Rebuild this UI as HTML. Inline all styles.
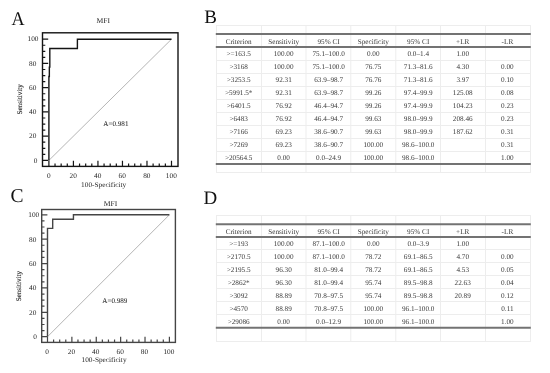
<!DOCTYPE html>
<html><head><meta charset="utf-8"><title>ROC curves</title>
<style>html,body{margin:0;padding:0;background:#fff;width:550px;height:373px;overflow:hidden}svg{display:block;filter:blur(0.3px)}</style>
</head><body>
<svg width="550" height="373" viewBox="0 0 550 373" font-family='"Liberation Serif", "Times New Roman", serif' text-rendering="geometricPrecision">
<rect width="550" height="373" fill="#fff"/>
<g font-size="7.1" fill="#262626"><line x1="48.9" y1="160.4" x2="171.5" y2="39.2" stroke="#adadad" stroke-width="0.9"/>
<path d="M42.5 160.4h5.7M48.9 166.4v-5.7M42.5 154.34h2.8M55.03 166.4v-2.8M42.5 148.28h2.8M61.16 166.4v-2.8M42.5 142.22h2.8M67.29 166.4v-2.8M42.5 136.16h5.7M73.42 166.4v-5.7M42.5 130.1h2.8M79.55 166.4v-2.8M42.5 124.04h2.8M85.68 166.4v-2.8M42.5 117.98h2.8M91.81 166.4v-2.8M42.5 111.92h5.7M97.94 166.4v-5.7M42.5 105.86h2.8M104.07 166.4v-2.8M42.5 99.8h2.8M110.2 166.4v-2.8M42.5 93.74h2.8M116.33 166.4v-2.8M42.5 87.68h5.7M122.46 166.4v-5.7M42.5 81.62h2.8M128.59 166.4v-2.8M42.5 75.56h2.8M134.72 166.4v-2.8M42.5 69.5h2.8M140.85 166.4v-2.8M42.5 63.44h5.7M146.98 166.4v-5.7M42.5 57.38h2.8M153.11 166.4v-2.8M42.5 51.32h2.8M159.24 166.4v-2.8M42.5 45.26h2.8M165.37 166.4v-2.8M42.5 39.2h5.7M171.5 166.4v-5.7" stroke="#141414" stroke-width="1.2" fill="none"/>
<path d="M48.9 160.4 L48.9 76.49 L49.35 76.49 L49.35 67.17 L49.81 67.17 L49.81 48.52 L77.39 48.52 L77.4 39.2 L171.5 39.2" stroke="#141414" stroke-width="1.4" fill="none" stroke-linejoin="miter"/>
<rect x="42.5" y="32.8" width="135.5" height="133.6" stroke="#141414" stroke-width="1.4" fill="none"/>
<text transform="translate(37.4 162.7) scale(1.03 1)" text-anchor="end">0</text>
<text transform="translate(48.7 177.7) scale(1.03 1)" text-anchor="middle">0</text>
<text transform="translate(36.3 138.4) scale(1.03 1)" text-anchor="end">20</text>
<text transform="translate(73.22 177.7) scale(1.03 1)" text-anchor="middle">20</text>
<text transform="translate(36.3 114.1) scale(1.03 1)" text-anchor="end">40</text>
<text transform="translate(97.74 177.7) scale(1.03 1)" text-anchor="middle">40</text>
<text transform="translate(36.3 89.8) scale(1.03 1)" text-anchor="end">60</text>
<text transform="translate(122.26 177.7) scale(1.03 1)" text-anchor="middle">60</text>
<text transform="translate(36.3 65.5) scale(1.03 1)" text-anchor="end">80</text>
<text transform="translate(146.78 177.7) scale(1.03 1)" text-anchor="middle">80</text>
<text transform="translate(38.5 41.2) scale(1.03 1)" text-anchor="end">100</text>
<text transform="translate(171.3 177.7) scale(1.03 1)" text-anchor="middle">100</text>
<text transform="translate(103.2 22.6) scale(1.03 1)" text-anchor="middle" font-size="7.4">MFI</text>
<text transform="translate(103.6 187.4) scale(1.03 1)" text-anchor="middle">100-Specificity</text>
<text transform="translate(21.8 99.3) rotate(-90)" text-anchor="middle" stroke="#262626" stroke-width="0.12">Sensitivity</text>
<text transform="translate(115.9 125.9)" text-anchor="middle" stroke="#262626" stroke-width="0.05">A=0.981</text>
<text transform="translate(11.6 24.8) scale(0.93 1)" font-size="19.5" fill="#111" stroke="none">A</text></g>
<g font-size="7.1" fill="#262626"><line x1="47.5" y1="336.7" x2="169.4" y2="214.8" stroke="#adadad" stroke-width="0.9"/>
<path d="M41.7 336.7h5.7M47.5 342.4v-5.7M41.7 330.6h2.8M53.59 342.4v-2.8M41.7 324.51h2.8M59.69 342.4v-2.8M41.7 318.41h2.8M65.78 342.4v-2.8M41.7 312.32h5.7M71.88 342.4v-5.7M41.7 306.22h2.8M77.97 342.4v-2.8M41.7 300.13h2.8M84.07 342.4v-2.8M41.7 294.03h2.8M90.17 342.4v-2.8M41.7 287.94h5.7M96.26 342.4v-5.7M41.7 281.84h2.8M102.36 342.4v-2.8M41.7 275.75h2.8M108.45 342.4v-2.8M41.7 269.65h2.8M114.55 342.4v-2.8M41.7 263.56h5.7M120.64 342.4v-5.7M41.7 257.46h2.8M126.73 342.4v-2.8M41.7 251.37h2.8M132.83 342.4v-2.8M41.7 245.27h2.8M138.93 342.4v-2.8M41.7 239.18h5.7M145.02 342.4v-5.7M41.7 233.08h2.8M151.12 342.4v-2.8M41.7 226.99h2.8M157.21 342.4v-2.8M41.7 220.89h2.8M163.31 342.4v-2.8M41.7 214.8h5.7M169.4 342.4v-5.7" stroke="#454545" stroke-width="1.2" fill="none"/>
<path d="M47.5 336.7 L47.5 228.34 L52.69 228.34 L52.69 219.31 L73.44 219.31 L73.44 214.8 L169.4 214.8" stroke="#454545" stroke-width="1.4" fill="none" stroke-linejoin="miter"/>
<rect x="41.7" y="209.5" width="133.7" height="132.9" stroke="#454545" stroke-width="1.4" fill="none"/>
<text transform="translate(37 338.8) scale(1.03 1)" text-anchor="end">0</text>
<text transform="translate(47 353.8) scale(1.03 1)" text-anchor="middle">0</text>
<text transform="translate(36.4 314.5) scale(1.03 1)" text-anchor="end">20</text>
<text transform="translate(71.38 353.8) scale(1.03 1)" text-anchor="middle">20</text>
<text transform="translate(36.4 290.2) scale(1.03 1)" text-anchor="end">40</text>
<text transform="translate(95.76 353.8) scale(1.03 1)" text-anchor="middle">40</text>
<text transform="translate(36.4 265.9) scale(1.03 1)" text-anchor="end">60</text>
<text transform="translate(120.14 353.8) scale(1.03 1)" text-anchor="middle">60</text>
<text transform="translate(36.4 241.6) scale(1.03 1)" text-anchor="end">80</text>
<text transform="translate(144.52 353.8) scale(1.03 1)" text-anchor="middle">80</text>
<text transform="translate(39.2 217.3) scale(1.03 1)" text-anchor="end">100</text>
<text transform="translate(168.9 353.8) scale(1.03 1)" text-anchor="middle">100</text>
<text transform="translate(110.5 205.5) scale(1.03 1)" text-anchor="middle" font-size="7.4">MFI</text>
<text transform="translate(104 362.2) scale(1.03 1)" text-anchor="middle">100-Specificity</text>
<text transform="translate(21.2 286.2) rotate(-90)" text-anchor="middle" stroke="#262626" stroke-width="0.12">Sensitivity</text>
<text transform="translate(114.8 302.6)" text-anchor="middle" stroke="#262626" stroke-width="0.05">A=0.989</text>
<text transform="translate(10.5 201.6) scale(1 1)" font-size="19.5" fill="#111" stroke="none">C</text></g>
<g font-size="7.2" fill="#3a3a3a" text-anchor="middle"><path d="M216.5 25.5V172.5M261.5 25.5V172.5M306 25.5V172.5M350.8 25.5V172.5M395.8 25.5V172.5M440.5 25.5V172.5M485.5 25.5V172.5M530.5 25.5V172.5M216 25.5H531M216 172.5H531M216 60.5H531M216 73.5H531M216 86.5H531M216 99.5H531M216 112.5H531M216 125.5H531M216 138.5H531M216 151.5H531" stroke="#ededed" stroke-width="1" fill="none"/>
<line x1="215.8" y1="34" x2="530.8" y2="34" stroke="#737373" stroke-width="2"/>
<line x1="215.8" y1="47" x2="530.8" y2="47" stroke="#737373" stroke-width="2"/>
<line x1="215.8" y1="164" x2="530.8" y2="164" stroke="#737373" stroke-width="2"/>
<text transform="translate(238.65 43.8) scale(1.0 1)">Criterion</text>
<text transform="translate(283.65 43.8) scale(1.0 1)">Sensitivity</text>
<text transform="translate(328.6 43.8) scale(1.0 1)">95% CI</text>
<text transform="translate(373.25 43.8) scale(1.0 1)">Specificity</text>
<text transform="translate(418.2 43.8) scale(1.0 1)">95% CI</text>
<text transform="translate(462.7 43.8) scale(1.0 1)">+LR</text>
<text transform="translate(507.4 43.8) scale(1.0 1)">-LR</text>
<text transform="translate(238.65 56.3) scale(1.0 1)">&gt;=163.5</text>
<text transform="translate(283.65 56.3) scale(1.0 1)">100.00</text>
<text transform="translate(328.6 56.3) scale(1.0 1)">75.1–100.0</text>
<text transform="translate(373.25 56.3) scale(1.0 1)">0.00</text>
<text transform="translate(418.2 56.3) scale(1.0 1)">0.0–1.4</text>
<text transform="translate(462.7 56.3) scale(1.0 1)">1.00</text>
<text transform="translate(238.65 69.3) scale(1.0 1)">&gt;3168</text>
<text transform="translate(283.65 69.3) scale(1.0 1)">100.00</text>
<text transform="translate(328.6 69.3) scale(1.0 1)">75.1–100.0</text>
<text transform="translate(373.25 69.3) scale(1.0 1)">76.75</text>
<text transform="translate(418.2 69.3) scale(1.0 1)">71.3–81.6</text>
<text transform="translate(462.7 69.3) scale(1.0 1)">4.30</text>
<text transform="translate(507.4 69.3) scale(1.0 1)">0.00</text>
<text transform="translate(238.65 82.3) scale(1.0 1)">&gt;3253.5</text>
<text transform="translate(283.65 82.3) scale(1.0 1)">92.31</text>
<text transform="translate(328.6 82.3) scale(1.0 1)">63.9–98.7</text>
<text transform="translate(373.25 82.3) scale(1.0 1)">76.76</text>
<text transform="translate(418.2 82.3) scale(1.0 1)">71.3–81.6</text>
<text transform="translate(462.7 82.3) scale(1.0 1)">3.97</text>
<text transform="translate(507.4 82.3) scale(1.0 1)">0.10</text>
<text transform="translate(238.65 95.3) scale(1.0 1)">&gt;5991.5*</text>
<text transform="translate(283.65 95.3) scale(1.0 1)">92.31</text>
<text transform="translate(328.6 95.3) scale(1.0 1)">63.9–98.7</text>
<text transform="translate(373.25 95.3) scale(1.0 1)">99.26</text>
<text transform="translate(418.2 95.3) scale(1.0 1)">97.4–99.9</text>
<text transform="translate(462.7 95.3) scale(1.0 1)">125.08</text>
<text transform="translate(507.4 95.3) scale(1.0 1)">0.08</text>
<text transform="translate(238.65 108.3) scale(1.0 1)">&gt;6401.5</text>
<text transform="translate(283.65 108.3) scale(1.0 1)">76.92</text>
<text transform="translate(328.6 108.3) scale(1.0 1)">46.4–94.7</text>
<text transform="translate(373.25 108.3) scale(1.0 1)">99.26</text>
<text transform="translate(418.2 108.3) scale(1.0 1)">97.4–99.9</text>
<text transform="translate(462.7 108.3) scale(1.0 1)">104.23</text>
<text transform="translate(507.4 108.3) scale(1.0 1)">0.23</text>
<text transform="translate(238.65 121.3) scale(1.0 1)">&gt;6483</text>
<text transform="translate(283.65 121.3) scale(1.0 1)">76.92</text>
<text transform="translate(328.6 121.3) scale(1.0 1)">46.4–94.7</text>
<text transform="translate(373.25 121.3) scale(1.0 1)">99.63</text>
<text transform="translate(418.2 121.3) scale(1.0 1)">98.0–99.9</text>
<text transform="translate(462.7 121.3) scale(1.0 1)">208.46</text>
<text transform="translate(507.4 121.3) scale(1.0 1)">0.23</text>
<text transform="translate(238.65 134.3) scale(1.0 1)">&gt;7166</text>
<text transform="translate(283.65 134.3) scale(1.0 1)">69.23</text>
<text transform="translate(328.6 134.3) scale(1.0 1)">38.6–90.7</text>
<text transform="translate(373.25 134.3) scale(1.0 1)">99.63</text>
<text transform="translate(418.2 134.3) scale(1.0 1)">98.0–99.9</text>
<text transform="translate(462.7 134.3) scale(1.0 1)">187.62</text>
<text transform="translate(507.4 134.3) scale(1.0 1)">0.31</text>
<text transform="translate(238.65 147.3) scale(1.0 1)">&gt;7269</text>
<text transform="translate(283.65 147.3) scale(1.0 1)">69.23</text>
<text transform="translate(328.6 147.3) scale(1.0 1)">38.6–90.7</text>
<text transform="translate(373.25 147.3) scale(1.0 1)">100.00</text>
<text transform="translate(418.2 147.3) scale(1.0 1)">98.6–100.0</text>
<text transform="translate(507.4 147.3) scale(1.0 1)">0.31</text>
<text transform="translate(238.65 160.3) scale(1.0 1)">&gt;20564.5</text>
<text transform="translate(283.65 160.3) scale(1.0 1)">0.00</text>
<text transform="translate(328.6 160.3) scale(1.0 1)">0.0–24.9</text>
<text transform="translate(373.25 160.3) scale(1.0 1)">100.00</text>
<text transform="translate(418.2 160.3) scale(1.0 1)">98.6–100.0</text>
<text transform="translate(507.4 160.3) scale(1.0 1)">1.00</text>
<text x="204.3" y="23.4" font-size="19" fill="#111" text-anchor="start">B</text></g>
<g font-size="7.2" fill="#3a3a3a" text-anchor="middle"><path d="M216.5 215.5V341.5M261.5 215.5V341.5M306 215.5V341.5M350.8 215.5V341.5M395.8 215.5V341.5M440.5 215.5V341.5M485.5 215.5V341.5M530.5 215.5V341.5M216 215.5H531M216 341.5H531M216 249.5H531M216 262.5H531M216 275.5H531M216 288.5H531M216 301.5H531M216 314.5H531" stroke="#ededed" stroke-width="1" fill="none"/>
<line x1="215.8" y1="224.2" x2="530.8" y2="224.2" stroke="#737373" stroke-width="2"/>
<line x1="215.8" y1="237" x2="530.8" y2="237" stroke="#737373" stroke-width="2"/>
<line x1="215.8" y1="327.79" x2="530.8" y2="327.79" stroke="#737373" stroke-width="2"/>
<text transform="translate(238.65 233.9) scale(1.0 1)">Criterion</text>
<text transform="translate(283.65 233.9) scale(1.0 1)">Sensitivity</text>
<text transform="translate(328.6 233.9) scale(1.0 1)">95% CI</text>
<text transform="translate(373.25 233.9) scale(1.0 1)">Specificity</text>
<text transform="translate(418.2 233.9) scale(1.0 1)">95% CI</text>
<text transform="translate(462.7 233.9) scale(1.0 1)">+LR</text>
<text transform="translate(507.4 233.9) scale(1.0 1)">-LR</text>
<text transform="translate(238.65 246.29) scale(1.0 1)">&gt;=193</text>
<text transform="translate(283.65 246.29) scale(1.0 1)">100.00</text>
<text transform="translate(328.6 246.29) scale(1.0 1)">87.1–100.0</text>
<text transform="translate(373.25 246.29) scale(1.0 1)">0.00</text>
<text transform="translate(418.2 246.29) scale(1.0 1)">0.0–3.9</text>
<text transform="translate(462.7 246.29) scale(1.0 1)">1.00</text>
<text transform="translate(238.65 259.25) scale(1.0 1)">&gt;2170.5</text>
<text transform="translate(283.65 259.25) scale(1.0 1)">100.00</text>
<text transform="translate(328.6 259.25) scale(1.0 1)">87.1–100.0</text>
<text transform="translate(373.25 259.25) scale(1.0 1)">78.72</text>
<text transform="translate(418.2 259.25) scale(1.0 1)">69.1–86.5</text>
<text transform="translate(462.7 259.25) scale(1.0 1)">4.70</text>
<text transform="translate(507.4 259.25) scale(1.0 1)">0.00</text>
<text transform="translate(238.65 272.23) scale(1.0 1)">&gt;2195.5</text>
<text transform="translate(283.65 272.23) scale(1.0 1)">96.30</text>
<text transform="translate(328.6 272.23) scale(1.0 1)">81.0–99.4</text>
<text transform="translate(373.25 272.23) scale(1.0 1)">78.72</text>
<text transform="translate(418.2 272.23) scale(1.0 1)">69.1–86.5</text>
<text transform="translate(462.7 272.23) scale(1.0 1)">4.53</text>
<text transform="translate(507.4 272.23) scale(1.0 1)">0.05</text>
<text transform="translate(238.65 285.2) scale(1.0 1)">&gt;2862*</text>
<text transform="translate(283.65 285.2) scale(1.0 1)">96.30</text>
<text transform="translate(328.6 285.2) scale(1.0 1)">81.0–99.4</text>
<text transform="translate(373.25 285.2) scale(1.0 1)">95.74</text>
<text transform="translate(418.2 285.2) scale(1.0 1)">89.5–98.8</text>
<text transform="translate(462.7 285.2) scale(1.0 1)">22.63</text>
<text transform="translate(507.4 285.2) scale(1.0 1)">0.04</text>
<text transform="translate(238.65 298.17) scale(1.0 1)">&gt;3092</text>
<text transform="translate(283.65 298.17) scale(1.0 1)">88.89</text>
<text transform="translate(328.6 298.17) scale(1.0 1)">70.8–97.5</text>
<text transform="translate(373.25 298.17) scale(1.0 1)">95.74</text>
<text transform="translate(418.2 298.17) scale(1.0 1)">89.5–98.8</text>
<text transform="translate(462.7 298.17) scale(1.0 1)">20.89</text>
<text transform="translate(507.4 298.17) scale(1.0 1)">0.12</text>
<text transform="translate(238.65 311.14) scale(1.0 1)">&gt;4570</text>
<text transform="translate(283.65 311.14) scale(1.0 1)">88.89</text>
<text transform="translate(328.6 311.14) scale(1.0 1)">70.8–97.5</text>
<text transform="translate(373.25 311.14) scale(1.0 1)">100.00</text>
<text transform="translate(418.2 311.14) scale(1.0 1)">96.1–100.0</text>
<text transform="translate(507.4 311.14) scale(1.0 1)">0.11</text>
<text transform="translate(238.65 324.11) scale(1.0 1)">&gt;29086</text>
<text transform="translate(283.65 324.11) scale(1.0 1)">0.00</text>
<text transform="translate(328.6 324.11) scale(1.0 1)">0.0–12.9</text>
<text transform="translate(373.25 324.11) scale(1.0 1)">100.00</text>
<text transform="translate(418.2 324.11) scale(1.0 1)">96.1–100.0</text>
<text transform="translate(507.4 324.11) scale(1.0 1)">1.00</text>
<text x="203.5" y="204" font-size="19" fill="#111" text-anchor="start">D</text></g>
</svg>
</body></html>
